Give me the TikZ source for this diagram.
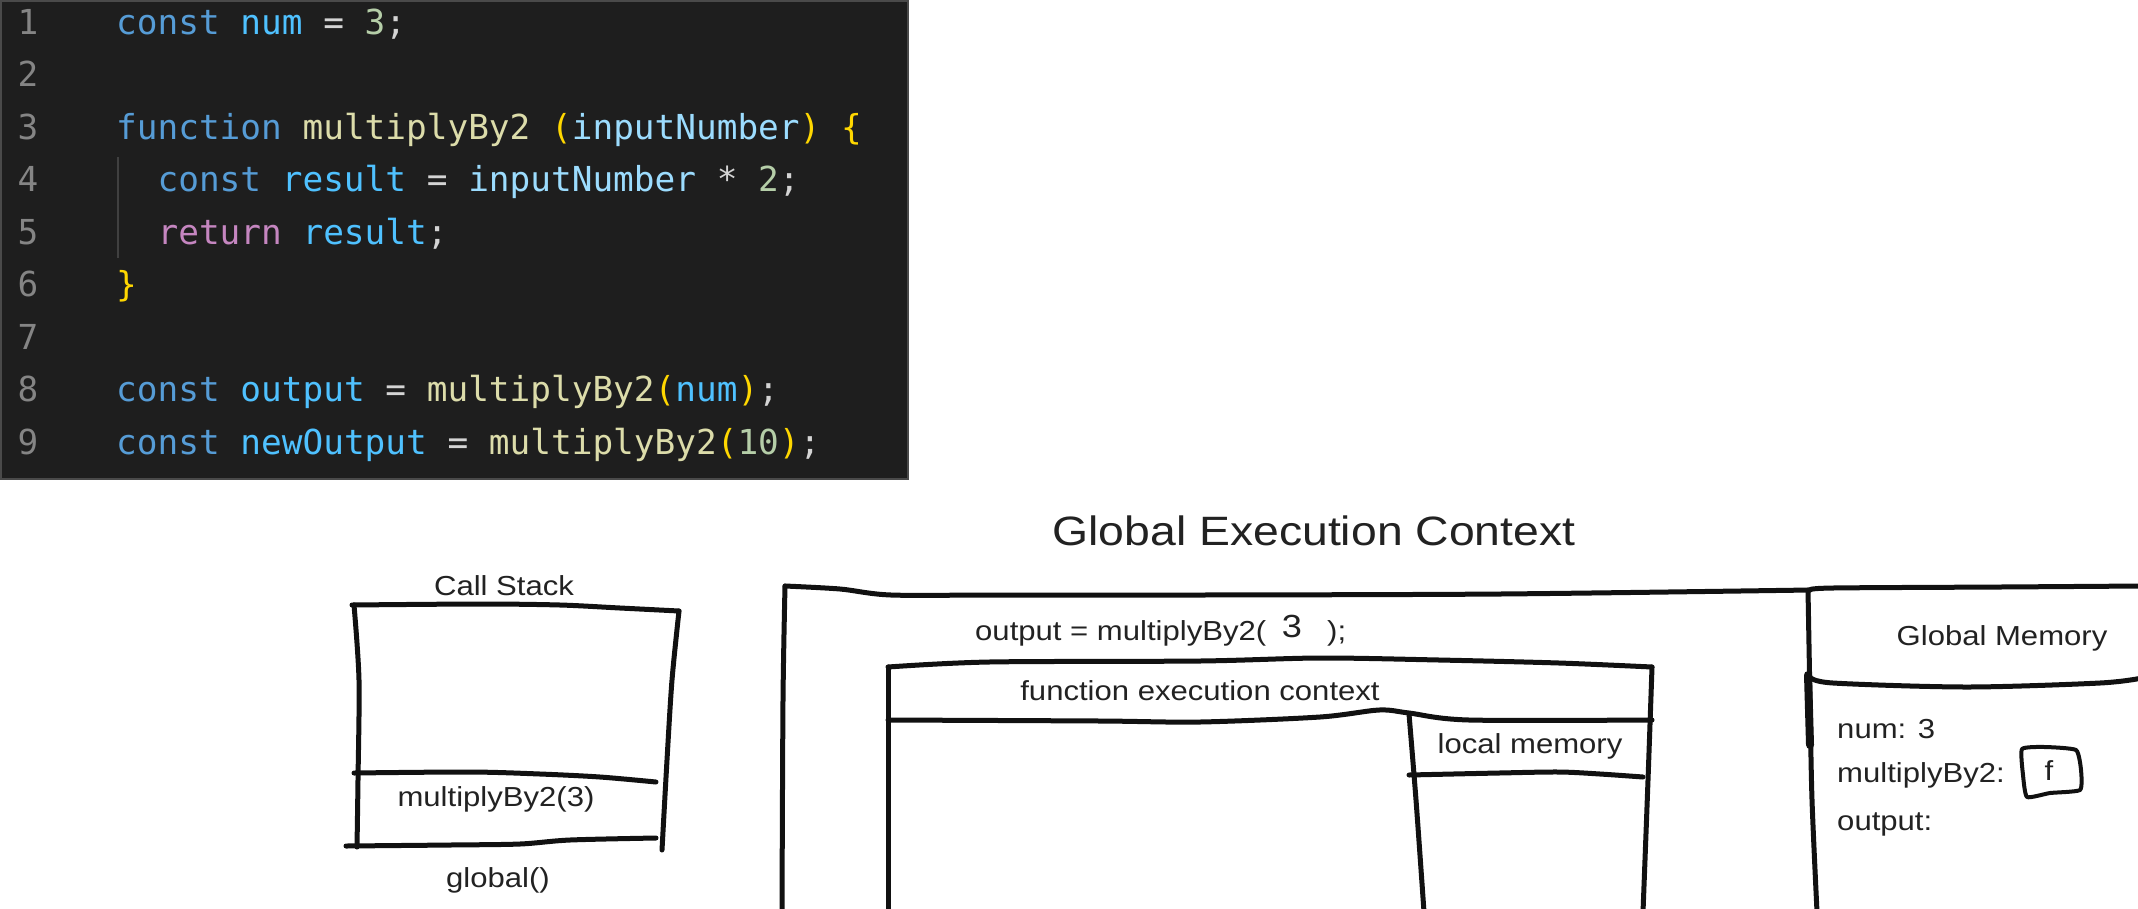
\documentclass[tikz,border=0pt]{standalone}
\usepackage{fontspec}
\newfontfamily\codefont{DejaVu Sans Mono}
\newfontfamily\handfont[FakeStretch=1.13]{Liberation Sans}
\definecolor{codebg}{HTML}{1E1E1E}
\definecolor{codeframe}{HTML}{4A4A4A}
\definecolor{lnc}{HTML}{858585}
\definecolor{kw}{HTML}{569CD6}
\definecolor{cvar}{HTML}{4FC1FF}
\definecolor{param}{HTML}{9CDCFE}
\definecolor{fn}{HTML}{DCDCAA}
\definecolor{brk}{HTML}{FFD700}
\definecolor{numc}{HTML}{B5CEA8}
\definecolor{punc}{HTML}{D4D4D4}
\definecolor{retc}{HTML}{C586C0}
\definecolor{guide}{HTML}{404040}
\definecolor{inkc}{HTML}{111111}
\definecolor{txtc}{HTML}{222222}
\begin{document}
\begin{tikzpicture}[x=1pt,y=-1pt,
  ink/.style={draw=inkc, line width=5pt, line cap=round, line join=round},
  codeline/.style={anchor=base west, inner sep=0, text=punc,
    font={\codefont\fontsize{34.4}{40}\selectfont}},
  lnum/.style={anchor=base, inner sep=0, text=lnc,
    font={\codefont\fontsize{34.4}{40}\selectfont}},
  lbl/.style={anchor=base, inner sep=0, text=txtc,
    font={\handfont\fontsize{27.5}{33}\selectfont}},
  lblw/.style={lbl, anchor=base west},
  title/.style={anchor=base, inner sep=0, text=txtc,
    font={\handfont\fontsize{41}{48}\selectfont}}]
\useasboundingbox (0,0) rectangle (2138,908);
\fill[white] (0,0) rectangle (2138,908);

% ---------- code panel ----------
\path[fill=codebg, draw=codeframe, line width=2pt] (1,1) rectangle (908,479);
\draw[guide, line width=1.5pt] (118,157) -- (118,258);
\foreach \n [count=\i] in {1,...,9} {
  \node[lnum] (ln\n) at (28,{34+(\n-1)*52.5}) {\n};
}
\node[codeline] (c1) at (116,34) {\textcolor{kw}{const} \textcolor{cvar}{num} = \textcolor{numc}{3};};
\node[codeline] (c3) at (116,139) {\textcolor{kw}{function} \textcolor{fn}{multiplyBy2} \textcolor{brk}{(}\textcolor{param}{inputNumber}\textcolor{brk}{)} \textcolor{brk}{\{}};
\node[codeline] (c4) at (157.4,191.5) {\textcolor{kw}{const} \textcolor{cvar}{result} = \textcolor{param}{inputNumber} * \textcolor{numc}{2};};
\node[codeline] (c5) at (157.4,244) {\textcolor{retc}{return} \textcolor{cvar}{result};};
\node[codeline] (c6) at (116,296.5) {\textcolor{brk}{\}}};
\node[codeline] (c8) at (116,401.5) {\textcolor{kw}{const} \textcolor{cvar}{output} = \textcolor{fn}{multiplyBy2}\textcolor{brk}{(}\textcolor{cvar}{num}\textcolor{brk}{)};};
\node[codeline] (c9) at (116,454) {\textcolor{kw}{const} \textcolor{cvar}{newOutput} = \textcolor{fn}{multiplyBy2}\textcolor{brk}{(}\textcolor{numc}{10}\textcolor{brk}{)};};

% ---------- title ----------
\node[title] (gectitle) at (1314,545) {Global Execution Context};

% ---------- call stack ----------
\node[lbl] (cslabel) at (504,595) {Call Stack};
\draw[ink] plot[smooth, tension=0.5] coordinates {(352,605) (480,604) (560,605) (620,608) (679,611)};
\draw[ink] plot[smooth, tension=0.5] coordinates {(679,611) (672,680) (667,760) (662,850)};
\draw[ink] plot[smooth, tension=0.5] coordinates {(354,605) (359,680) (358,780) (357,847)};
\draw[ink] plot[smooth, tension=0.5] coordinates {(354,773) (470,772) (540,774) (600,777) (656,782)};
\draw[ink] plot[smooth, tension=0.5] coordinates {(346,846) (450,845) (520,844) (570,840) (656,838)};
\node[lbl] (csframe) at (496,806) {multiplyBy2(3)};
\node[lbl] (csglobal) at (498,887) {global()};

% ---------- global execution context ----------
\draw[ink] plot[smooth, tension=0.5] coordinates {(785,586) (783,700) (782,912)};
\draw[ink] plot[smooth, tension=0.5] coordinates {(785,586) (840,589) (891,595) (1000,595) (1200,595) (1500,594) (1810,590)};
\draw[ink] plot[smooth, tension=0.5] coordinates {(1810,590) (1833,588) (2000,587) (2142,586)};
\draw[ink] plot[smooth, tension=0.5] coordinates {(1808,590) (1810,700) (1812,800) (1817,912)};
\draw[ink, line width=8pt] (1808,675) -- (1810,745);
\draw[ink] plot[smooth, tension=0.5] coordinates {(1810,677) (1833,683) (1967,687) (2100,683) (2142,678)};
\node[lbl] (gmlabel) at (2002,645) {Global Memory};
\node[lblw] (gmnum) at (1837,738) {num: 3};
\node[lblw] (gmfn) at (1837,782) {multiplyBy2:};
\node[lblw] (gmout) at (1837,830) {output:};
\draw[ink, line width=4pt] plot[smooth cycle, tension=0.3] coordinates {(2022,749) (2045,747) (2076,750) (2081,770) (2080,790) (2050,793) (2027,797) (2023,775)};
\node[lbl] (gmf) at (2049,780) {f};

% ---------- output line ----------
\node[lblw] (outcall) at (975,640) {output = multiplyBy2(};
\node[anchor=base, inner sep=0, text=txtc, font={\handfont\fontsize{32}{38}\selectfont}] (outarg) at (1292,637) {3};
\node[lblw] (outend) at (1327,640) {);};

% ---------- function execution context ----------
\draw[ink] plot[smooth, tension=0.5] coordinates {(888,667) (888,790) (888,912)};
\draw[ink] plot[smooth, tension=0.5] coordinates {(888,667) (989,662) (1200,661) (1320,658) (1439,660) (1559,663) (1652,667)};
\draw[ink] plot[smooth, tension=0.5] coordinates {(1652,667) (1648,780) (1643,912)};
\draw[ink] plot[smooth, tension=0.5] coordinates {(888,720) (1100,721) (1200,722) (1320,717) (1379,710) (1409,713) (1469,720) (1652,720)};
\node[lbl] (fectitle) at (1200,700) {function execution context};
\draw[ink] plot[smooth, tension=0.5] coordinates {(1409,714) (1416,800) (1424,912)};
\draw[ink] plot[smooth, tension=0.5] coordinates {(1409,775) (1499,773) (1559,772) (1600,774) (1643,777)};
\node[lbl] (lmlabel) at (1530,753) {local memory};
\end{tikzpicture}
\end{document}
